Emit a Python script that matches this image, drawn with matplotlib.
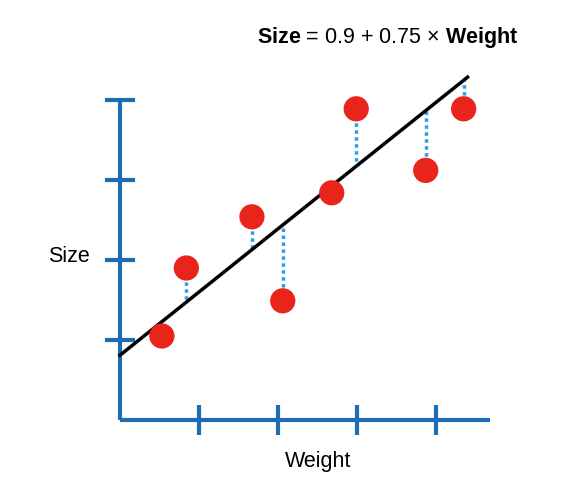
import matplotlib
matplotlib.use("Agg")
import matplotlib.pyplot as plt
import numpy as np

weight = [0.53, 0.84, 1.67, 2.06, 2.68, 2.99, 3.87, 4.35]
size = [1.05, 1.90, 2.54, 1.49, 2.84, 3.89, 3.12, 3.89]
intercept, slope = 0.81, 0.79
ticks = [1, 2, 3, 4]

plt.rcParams['font.family'] = ['Liberation Sans', 'DejaVu Sans']
plt.rcParams['mathtext.fontset'] = 'custom'
plt.rcParams['mathtext.rm'] = 'Liberation Sans'
plt.rcParams['mathtext.bf'] = 'Liberation Sans:bold'

W, H = 567, 484
fig = plt.figure(figsize=(W/100, H/100), dpi=100)
ax = fig.add_axes([120/W, 64/H, 370/W, 350/H])
ax.set_xlim(0, 370/79)
ax.set_ylim(0, 350/80)
ax.axis('off')
blue = '#1c6db3'
ax.plot([0, 0], [0, 4], color=blue, lw=3, clip_on=False, solid_capstyle='butt')
ax.plot([0, 370/79], [0, 0], color=blue, lw=3, clip_on=False, solid_capstyle='butt')
for t in ticks:
    ax.plot([-0.19, 0.19], [t, t], color=blue, lw=3, clip_on=False, solid_capstyle='butt')
    ax.plot([t, t], [-0.19, 0.19], color=blue, lw=3, clip_on=False, solid_capstyle='butt')

for x, y in zip(weight, size):
    ax.plot([x, x], [y, intercept + slope*x], color='#2a9ee8', lw=2.5, ls=(0, (1, 1)), zorder=2)

xl = np.array([0, 4.4])
ax.plot(xl, intercept + slope*xl, color='black', lw=2.5, zorder=3, clip_on=False)
ax.scatter(weight, size, s=330, color='#e8241b', zorder=4, clip_on=False, edgecolors='none')

fig.text(69/W, 1-257/H, 'Size', fontsize=15.5, ha='center', va='center')
fig.text(318/W, 1-462/H, 'Weight', fontsize=15.5, ha='center', va='center')
fig.text(388/W, 1-37/H, r'$\mathbf{Size}$ = 0.9 + 0.75 $\times$ $\mathbf{Weight}$', fontsize=15.5, ha='center', va='center')
fig.savefig('out.png', dpi=100)
